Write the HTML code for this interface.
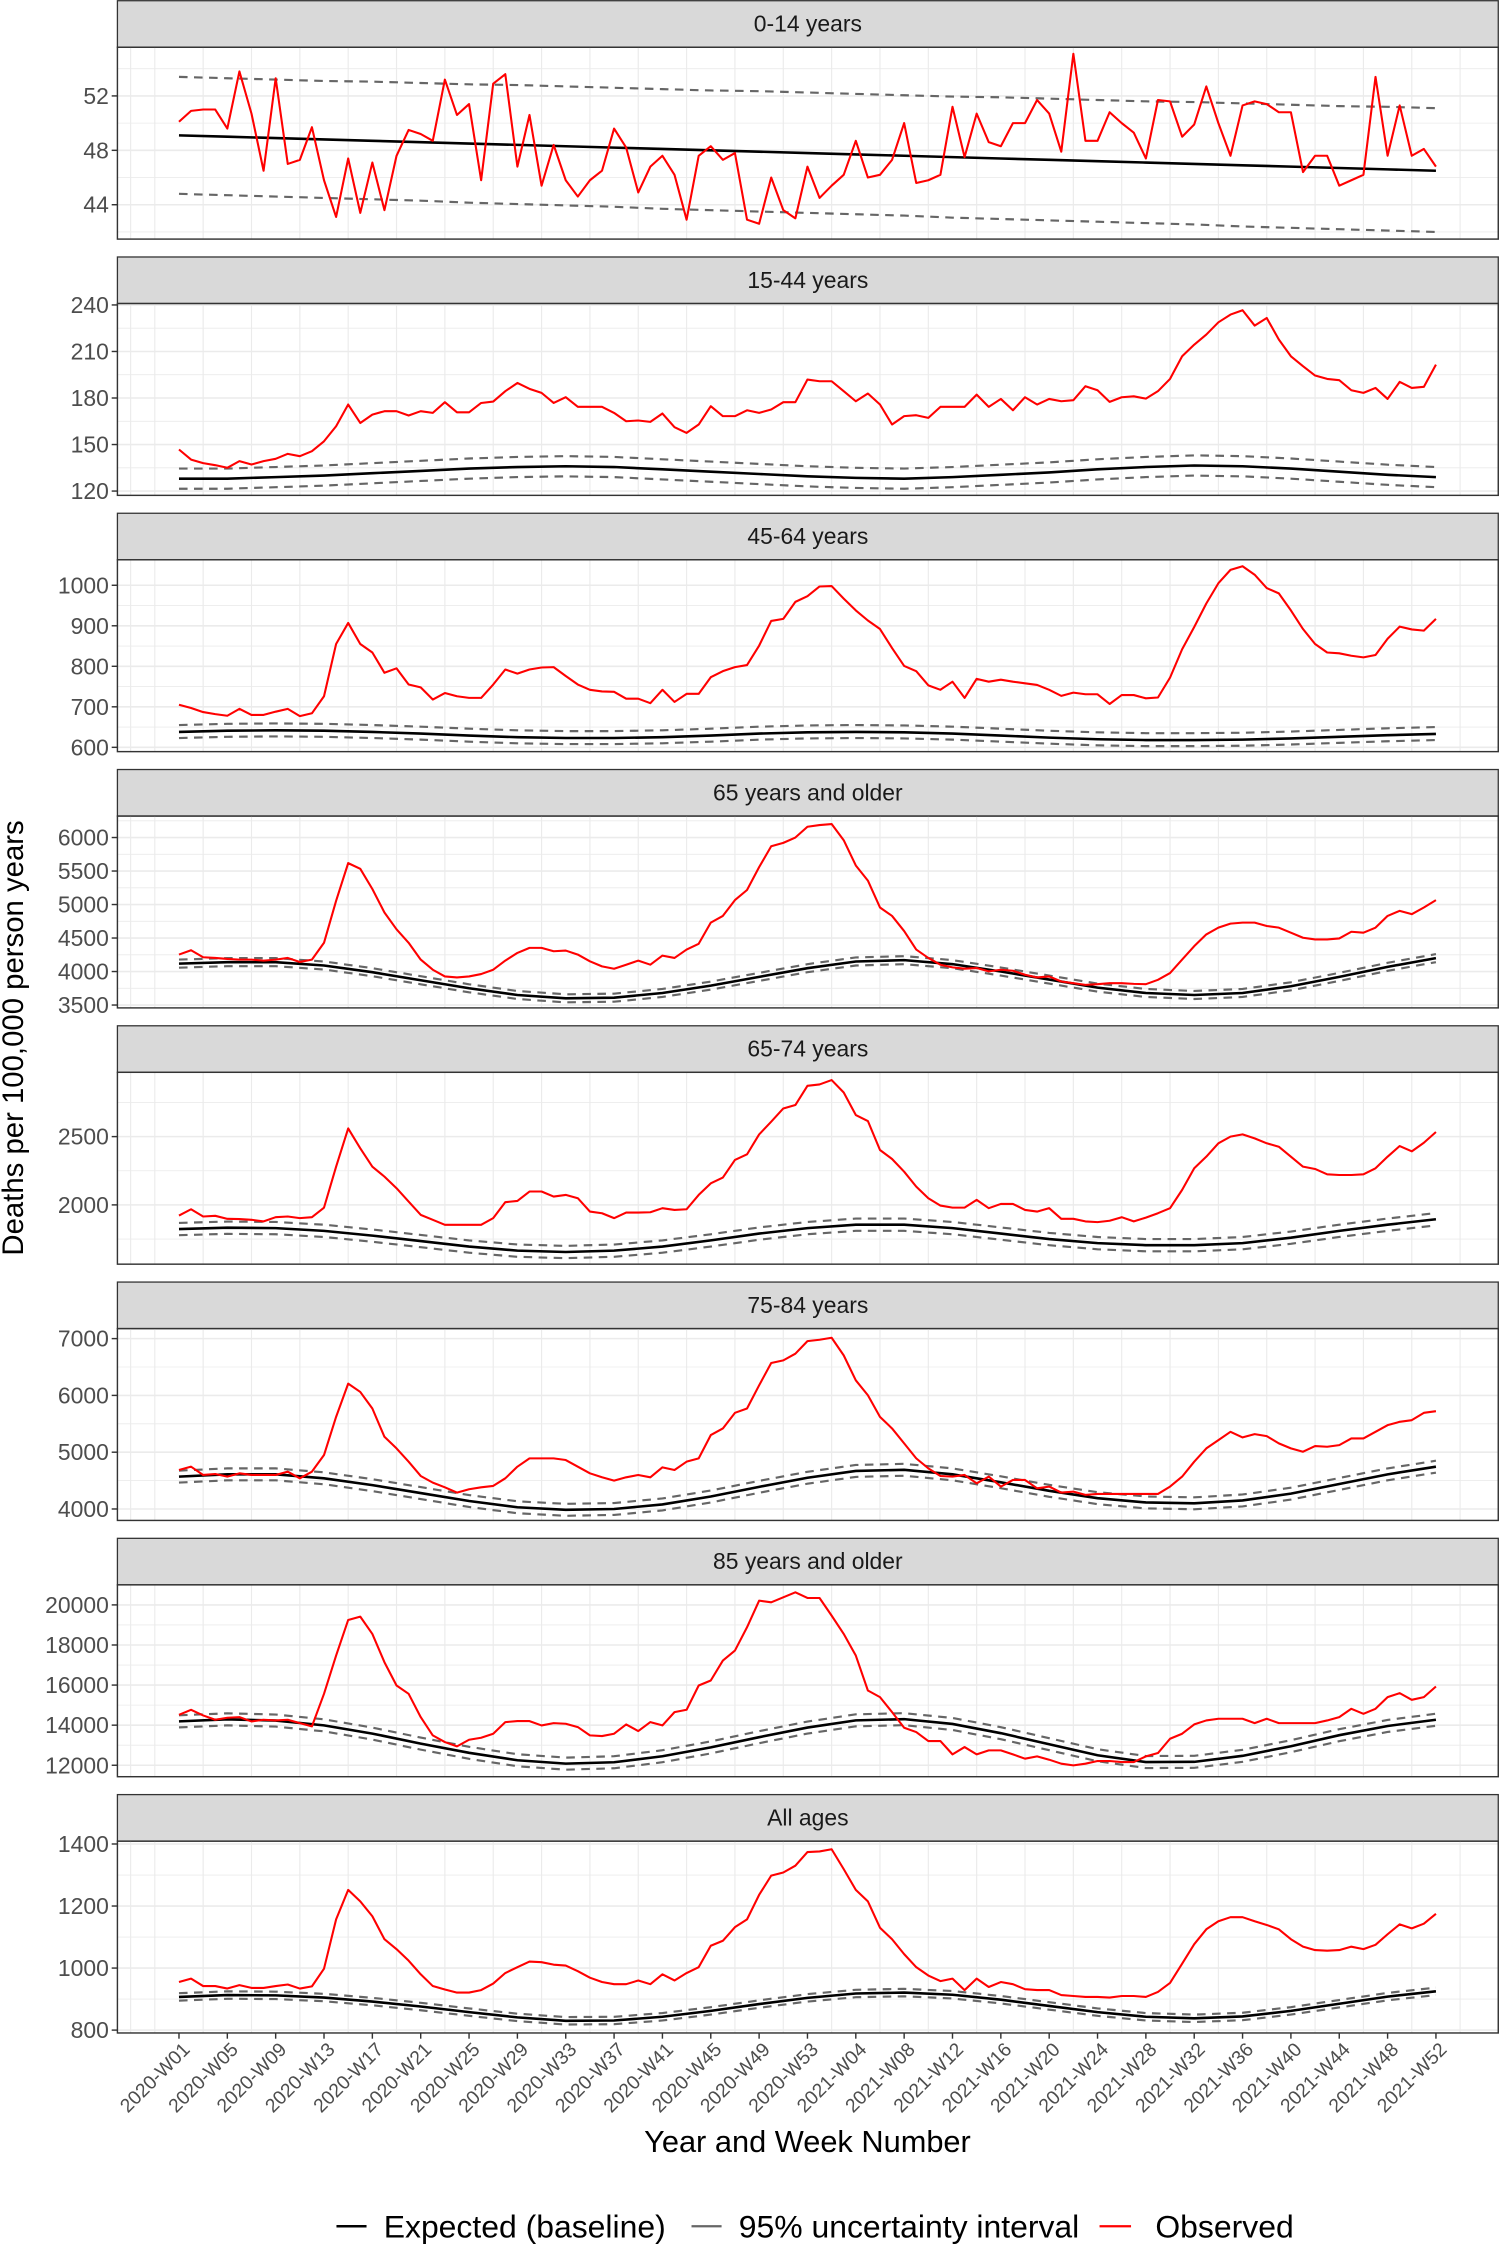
<!DOCTYPE html>
<html><head><meta charset="utf-8"><style>
html,body{margin:0;padding:0;background:#fff}
svg{display:block}
text{font-family:"Liberation Sans",Arial,sans-serif}
</style></head><body>
<svg id="chart" xmlns="http://www.w3.org/2000/svg" width="1499" height="2244" viewBox="0 0 1047 1567.4">
<rect x="0" y="0" width="1047" height="1567.4" fill="#fff"/>
<g id="panels"></g>
<g id="xaxis"></g>
<text x="564" y="1503" font-size="21.5" text-anchor="middle" fill="#000">Year and Week Number</text>
<text transform="translate(16,725) rotate(-90)" font-size="20.5" text-anchor="middle" fill="#000">Deaths per 100,000 person years</text>
<g>
 <g>
  <line x1="235" y1="1555" x2="256" y2="1555" stroke="#000" stroke-width="1.8"/>
  <text x="268" y="1563" font-size="22.3" fill="#000">Expected (baseline)</text>
 </g>
 <g>
  <line x1="483" y1="1555" x2="504" y2="1555" stroke="#666" stroke-width="1.5"/>
  <text x="516" y="1563" font-size="22.3" fill="#000">95% uncertainty interval</text>
 </g>
 <g>
  <line x1="768" y1="1555" x2="790" y2="1555" stroke="#ff0000" stroke-width="1.6"/>
  <text x="807" y="1563" font-size="22.3" fill="#000">Observed</text>
 </g>
</g>
</svg>
<script>
// ---------- DATA ----------
const tickLabels = ["2020-W01","2020-W05","2020-W09","2020-W13","2020-W17","2020-W21","2020-W25","2020-W29","2020-W33","2020-W37","2020-W41","2020-W45","2020-W49","2020-W53","2021-W04","2021-W08","2021-W12","2021-W16","2021-W20","2021-W24","2021-W28","2021-W32","2021-W36","2021-W40","2021-W44","2021-W48","2021-W52"];
const tickWeekIndex = [0,4,8,12,16,20,24,28,32,36,40,44,48,52,56,60,64,68,72,76,80,84,88,92,96,100,104];
const panelTitles = ["0-14 years","15-44 years","45-64 years","65 years and older","65-74 years","75-84 years","85 years and older","All ages"];

const obs0 = [50.1,50.9,51.0,51.0,49.6,53.8,50.7,46.5,53.3,47.0,47.3,49.7,45.8,43.1,47.4,43.4,47.1,43.6,47.6,49.5,49.2,48.7,53.2,50.6,51.4,45.8,52.9,53.6,46.8,50.6,45.4,48.4,45.8,44.6,45.8,46.5,49.6,48.2,44.9,46.8,47.6,46.2,42.9,47.6,48.3,47.3,47.8,42.9,42.6,46.0,43.6,43.0,46.8,44.5,45.4,46.2,48.7,46.0,46.2,47.3,50.0,45.6,45.8,46.2,51.2,47.5,50.7,48.6,48.3,50.0,50.0,51.7,50.7,47.9,55.1,48.7,48.7,50.8,50.0,49.3,47.4,51.7,51.6,49.0,49.9,52.7,50.0,47.6,51.3,51.6,51.4,50.8,50.8,46.4,47.6,47.6,45.4,45.8,46.2,53.4,47.6,51.3,47.6,48.1,46.8];
const obs1 = [146.8,140.3,138,136.7,135,139.3,137.1,139.3,140.8,144,142.5,145.7,152.1,161.8,175.8,163.9,169.3,171.5,171.5,168.7,171.5,170.4,177.3,170.8,170.8,176.8,177.7,184.4,189.7,185.9,183.3,176.8,180.5,174.3,174.3,174.3,170.4,165,165.5,164.6,170,161.2,157.5,162.9,174.7,168.3,168.3,172.1,170.4,172.6,177.3,177.3,191.9,190.8,190.8,184.4,177.9,182.9,175.8,162.9,168.3,168.9,167.2,174.3,174.3,174.3,182.2,174.3,179.4,172.1,180.5,175.8,179.4,177.9,178.6,187.6,185,177.5,180.5,181.1,179.6,184.4,192.3,206.9,214.4,220.9,228.8,233.8,236.6,226.7,231.6,217.7,206.9,200.5,194.5,192.3,191.5,185,183.3,186.5,179.4,190.4,186.5,187.2,201.5];
const obs2 = [705,697,687,682,678,695,680,680,688,695,677,684,726,855,907,855,834,784,795,755,748,718,734,726,722,722,755,792,782,792,797,798,776,755,742,738,737,720,720,709,742,712,732,732,773,788,798,803,851,912,917,959,973,997,998,967,938,913,892,845,801,788,753,742,762,722,769,762,767,762,758,754,742,727,735,731,731,707,729,729,721,723,772,842,897,955,1005,1038,1047,1026,993,980,938,892,855,834,832,826,822,828,868,898,891,888,917];
const obs3 = [4253,4318,4213,4203,4188,4178,4178,4163,4178,4203,4143,4178,4429,5056,5618,5533,5232,4881,4630,4429,4178,4027,3927,3912,3927,3962,4027,4163,4278,4353,4353,4303,4313,4253,4153,4077,4042,4102,4163,4102,4238,4203,4328,4414,4730,4830,5066,5217,5558,5870,5920,6000,6161,6186,6201,5960,5583,5357,4956,4830,4604,4328,4203,4102,4062,4042,4052,4002,4027,4012,3952,3912,3927,3851,3826,3801,3811,3826,3826,3816,3811,3876,3977,4178,4379,4554,4655,4715,4730,4730,4680,4655,4580,4504,4479,4479,4494,4594,4580,4655,4830,4906,4856,4956,5066];
const obs4 = [1922,1968,1915,1920,1898,1896,1891,1879,1910,1915,1903,1910,1980,2280,2560,2414,2280,2207,2122,2024,1927,1891,1854,1854,1854,1854,1903,2020,2029,2098,2098,2061,2073,2049,1951,1939,1903,1944,1944,1946,1976,1963,1968,2073,2158,2200,2329,2370,2516,2609,2706,2731,2872,2882,2914,2823,2658,2614,2402,2336,2243,2134,2049,1995,1980,1980,2037,1976,2007,2007,1963,1951,1976,1898,1898,1879,1874,1884,1910,1879,1907,1939,1976,2110,2268,2353,2451,2500,2516,2487,2451,2426,2353,2280,2263,2224,2219,2219,2224,2268,2353,2431,2392,2455,2534];
const obs5 = [4687,4745,4599,4616,4570,4628,4599,4599,4599,4657,4540,4657,4950,5622,6207,6061,5769,5271,5067,4833,4581,4464,4382,4289,4347,4382,4406,4540,4745,4891,4891,4891,4862,4745,4628,4558,4499,4558,4599,4558,4733,4687,4833,4891,5301,5418,5693,5769,6178,6570,6617,6734,6956,6980,7015,6705,6266,6003,5622,5418,5155,4891,4716,4581,4570,4599,4452,4570,4394,4511,4511,4364,4394,4289,4306,4248,4265,4265,4265,4265,4265,4265,4394,4570,4833,5067,5213,5359,5260,5318,5283,5155,5067,5008,5108,5096,5125,5242,5242,5359,5476,5535,5564,5693,5722];
const obs6 = [14518,14767,14485,14269,14369,14402,14186,14269,14236,14269,14103,13937,15564,17473,19249,19415,18552,17141,15979,15564,14402,13489,13157,12941,13273,13373,13572,14153,14203,14203,13987,14103,14070,13904,13489,13456,13572,14037,13705,14153,13987,14651,14767,15979,16228,17224,17722,18884,20212,20129,20378,20627,20345,20345,19465,18552,17473,15730,15398,14651,13871,13655,13207,13207,12543,12908,12543,12742,12742,12543,12327,12443,12277,12078,11995,12078,12211,12211,12161,12161,12443,12609,13323,13572,14037,14236,14319,14319,14319,14103,14319,14103,14103,14103,14103,14236,14402,14817,14568,14817,15398,15597,15265,15398,15929];
const obs7 = [955,966,942,942,934,945,936,936,942,947,934,941,998,1157,1252,1215,1167,1093,1061,1024,980,942,931,921,921,929,950,984,1003,1021,1019,1011,1008,990,969,955,948,948,960,948,980,960,984,1003,1072,1088,1132,1157,1236,1298,1308,1330,1374,1376,1383,1319,1252,1215,1130,1093,1045,1003,976,958,966,929,966,939,955,948,932,929,929,913,910,907,907,905,910,910,907,923,952,1014,1077,1125,1151,1164,1164,1151,1139,1125,1093,1069,1058,1056,1058,1069,1061,1075,1109,1141,1128,1143,1175];

const exp0 = [49.1,49.0,48.9,48.8,48.7,48.6,48.5,48.4,48.3,48.2,48.1,48.0,47.9,47.8,47.7,47.6,47.5,47.4,47.3,47.2,47.1,47.0,46.9,46.8,46.7,46.6,46.5];
const up0 = [53.4,53.3,53.2,53.1,53.05,52.95,52.85,52.8,52.7,52.6,52.5,52.4,52.35,52.25,52.15,52.05,51.95,51.9,51.8,51.7,51.6,51.55,51.45,51.35,51.25,51.2,51.1];
const lo0 = [44.8,44.7,44.6,44.5,44.4,44.3,44.15,44.05,43.95,43.85,43.7,43.6,43.5,43.4,43.3,43.2,43.05,42.95,42.85,42.75,42.65,42.55,42.4,42.3,42.2,42.1,42.0];
const exp1 = [128,128,129,130,131.5,133,134.5,135.5,136,135.5,134,132.5,131,129.5,128.5,128,129,130.5,132,134,135.5,136.5,136,134.5,132.5,130.5,129];
const up1 = [134.5,134.5,135.5,136.5,138,139.5,141,142,142.5,142,140.5,139,137.5,136,135,134.5,135.5,137,138.5,140.5,142,143,142.5,141,139,137,135.5];
const lo1 = [121.5,121.5,122.5,123.5,125,126.5,128,129,129.5,129,127.5,126,124.5,123,122,121.5,122.5,124,125.5,127.5,129,130,129.5,128,126,124,122.5];
const exp2 = [638,641,642,641,638,634,629,625,623,623,625,629,634,637,638,637,634,629,624,620,618,618,619,622,626,630,633];
const up2 = [655,658,659,658,655,651,646,642,640,640,642,646,651,654,655,654,651,646,641,637,635,635,636,639,643,647,650];
const lo2 = [623,626,627,626,623,619,614,610,608,608,610,614,619,622,623,622,619,614,609,605,603,603,604,607,611,615,618];
const exp3 = [4118,4140,4140,4090,3990,3870,3750,3650,3600,3610,3680,3790,3920,4050,4150,4170,4110,4000,3880,3760,3680,3650,3680,3780,3920,4070,4200];
const up3 = [4178,4200,4200,4150,4050,3930,3810,3710,3660,3670,3740,3850,3980,4110,4210,4230,4170,4060,3940,3820,3740,3710,3740,3840,3980,4130,4260];
const lo3 = [4058,4080,4080,4030,3930,3810,3690,3590,3540,3550,3620,3730,3860,3990,4090,4110,4050,3940,3820,3700,3620,3590,3620,3720,3860,4010,4140];
const exp4 = [1823,1833,1830,1810,1775,1735,1695,1665,1655,1665,1695,1740,1790,1830,1855,1855,1830,1790,1750,1720,1705,1705,1720,1760,1810,1855,1895];
const up4 = [1868,1878,1875,1855,1820,1780,1740,1710,1700,1710,1740,1785,1835,1875,1900,1900,1875,1835,1795,1765,1750,1750,1765,1805,1855,1900,1940];
const lo4 = [1778,1788,1785,1765,1730,1690,1650,1620,1610,1620,1650,1695,1745,1785,1810,1810,1785,1745,1705,1675,1660,1660,1675,1715,1765,1810,1850];
const exp5 = [4570,4610,4610,4540,4420,4280,4140,4030,3985,4000,4080,4220,4390,4550,4670,4690,4610,4470,4320,4190,4115,4100,4150,4270,4440,4610,4745];
const up5 = [4675,4715,4715,4645,4525,4385,4245,4135,4090,4105,4185,4325,4495,4655,4775,4795,4715,4575,4425,4295,4220,4205,4255,4375,4545,4715,4850];
const lo5 = [4465,4505,4505,4435,4315,4175,4035,3925,3880,3895,3975,4115,4285,4445,4565,4585,4505,4365,4215,4085,4010,3995,4045,4165,4335,4505,4640];
const exp6 = [14190,14290,14230,13990,13580,13080,12620,12250,12080,12150,12450,12890,13400,13880,14240,14300,14060,13600,13050,12500,12160,12170,12470,12950,13500,13960,14270];
const up6 = [14490,14590,14530,14290,13880,13380,12920,12550,12380,12450,12750,13190,13700,14180,14540,14600,14360,13900,13350,12800,12460,12470,12770,13250,13800,14260,14570];
const lo6 = [13890,13990,13930,13690,13280,12780,12320,11950,11780,11850,12150,12590,13100,13580,13940,14000,13760,13300,12750,12200,11860,11870,12170,12650,13200,13660,13970];
const exp7 = [907,913,912,905,892,876,858,841,830,831,843,862,884,904,918,921,914,898,878,858,843,838,844,862,885,908,925];
const up7 = [919,925,924,917,904,888,870,853,842,843,855,874,896,916,930,933,926,910,890,870,855,850,856,874,897,920,937];
const lo7 = [895,901,900,893,880,864,846,829,818,819,831,850,872,892,906,909,902,886,866,846,831,826,832,850,873,896,913];

const yTicks = [[44,48,52],[120,150,180,210,240],[600,700,800,900,1000],[3500,4000,4500,5000,5500,6000],[2000,2500],[4000,5000,6000,7000],[12000,14000,16000,18000,20000],[800,1000,1200,1400]];
const yMinor = [[42,46,50,54],[135,165,195,225],[650,750,850,950],[3750,4250,4750,5250,5750,6250],[1750,2250,2750],[4500,5500,6500],[13000,15000,17000,19000],[900,1100,1300]];

// ---------- LAYOUT (pixel calibration, not data) ----------
const NS = "http://www.w3.org/2000/svg";
const PL = 82, PR = 1046.5, STEP = 179, STRIP = 33, PH = 134;
const X0 = 125, DX = 8.442;
const yCal = [[52,67,44,143],[240,213,120,343],[1000,408.8,600,522],[6000,585,3500,702],[2500,793.9,2000,841.6],[7000,935,4000,1054],[20000,1121,12000,1233],[1400,1288,800,1418]];
const obsAll = [obs0,obs1,obs2,obs3,obs4,obs5,obs6,obs7];
const expAll = [exp0,exp1,exp2,exp3,exp4,exp5,exp6,exp7];
const upAll = [up0,up1,up2,up3,up4,up5,up6,up7];
const loAll = [lo0,lo1,lo2,lo3,lo4,lo5,lo6,lo7];

function xScale(i){ return X0 + i*DX; }
function makeY(k){ const c=yCal[k]; const s=(c[3]-c[1])/(c[2]-c[0]); return v => c[1] + (v-c[0])*s; }
function mk(tag, attrs, parent){ const e=document.createElementNS(NS,tag); for(const a in attrs) e.setAttribute(a, attrs[a]); if(parent) parent.appendChild(e); return e; }

const root = document.getElementById('panels');
const defs = mk('defs',{},document.getElementById('chart'));

panelTitles.forEach((title,k)=>{
  const top = STEP*k, pTop = top+STRIP, pBot = pTop+PH;
  const y = makeY(k);
  const g = mk('g',{},root);
  
  
  const cp = mk('clipPath',{id:'clip'+k},defs);
  mk('rect',{x:PL,y:pTop,width:PR-PL,height:PH},cp);
  const strip = mk('rect',{x:PL,y:top+0.5,width:PR-PL,height:STRIP-0.5,fill:'#d9d9d9',stroke:'#333','stroke-width':0.9},g);
  
  
  const st = mk('text',{x:(PL+PR)/2,y:top+STRIP/2+5.5,'font-size':16,'text-anchor':'middle',fill:'#1a1a1a'},g);
  st.textContent = title;
  
  
  const grid = mk('g',{'clip-path':'url(#clip'+k+')'},g);
  
  
  const vx = [X0-4*DX]; for(let w=-2; w<=110; w+=4) vx.push(xScale(w));
  vx.forEach(xx=>mk('line',{x1:xx,x2:xx,y1:pTop,y2:pBot,stroke:'#ebebeb','stroke-width':0.8},grid));
  yMinor[k].forEach(v=>mk('line',{x1:PL,x2:PR,y1:y(v),y2:y(v),stroke:'#ebebeb','stroke-width':0.6},grid));
  yTicks[k].forEach(v=>mk('line',{x1:PL,x2:PR,y1:y(v),y2:y(v),stroke:'#ebebeb','stroke-width':1.1},grid));
  const sg = mk('g',{'clip-path':'url(#clip'+k+')'},g);
  const ptsTick = arr => arr.map((v,j)=>xScale(tickWeekIndex[j]).toFixed(2)+','+y(v).toFixed(2)).join(' ');
  const lo = mk('polyline',{points:ptsTick(loAll[k]),fill:'none',stroke:'#666','stroke-width':1.5,'stroke-dasharray':'6 4.5'},sg);
  
  
  const up = mk('polyline',{points:ptsTick(upAll[k]),fill:'none',stroke:'#666','stroke-width':1.5,'stroke-dasharray':'6 4.5'},sg);
  
  
  const ex = mk('polyline',{points:ptsTick(expAll[k]),fill:'none',stroke:'#000','stroke-width':1.8},sg);
  
  
  const ob = mk('polyline',{points:obsAll[k].map((v,i)=>xScale(i).toFixed(2)+','+y(v).toFixed(2)).join(' '),fill:'none',stroke:'#ff0000','stroke-width':1.45,'stroke-linejoin':'round'},sg);
  
  
  mk('rect',{x:PL,y:pTop,width:PR-PL,height:PH,fill:'none',stroke:'#333','stroke-width':1},g);
  const ya = mk('g',{},g);
  
  
  yTicks[k].forEach(v=>{
    mk('line',{x1:78,x2:PL,y1:y(v),y2:y(v),stroke:'#333','stroke-width':1},ya);
    const t = mk('text',{x:76,y:y(v)+5.6,'font-size':16,'text-anchor':'end',fill:'#4d4d4d'},ya);
    t.textContent = v;
    
    
  });
});

const xa = document.getElementById('xaxis');
const bottom = STEP*7+STRIP+PH;
tickLabels.forEach((lab,j)=>{
  const xx = xScale(tickWeekIndex[j]);
  mk('line',{x1:xx,x2:xx,y1:bottom,y2:bottom+4,stroke:'#333','stroke-width':1},xa);
  const t = mk('text',{transform:'translate('+(xx+5)+','+(bottom+9)+') rotate(-45)','font-size':13.5,'text-anchor':'end',fill:'#4d4d4d',dy:'0.35em'},xa);
  t.textContent = lab;
  
  
});
</script>
</body></html>
